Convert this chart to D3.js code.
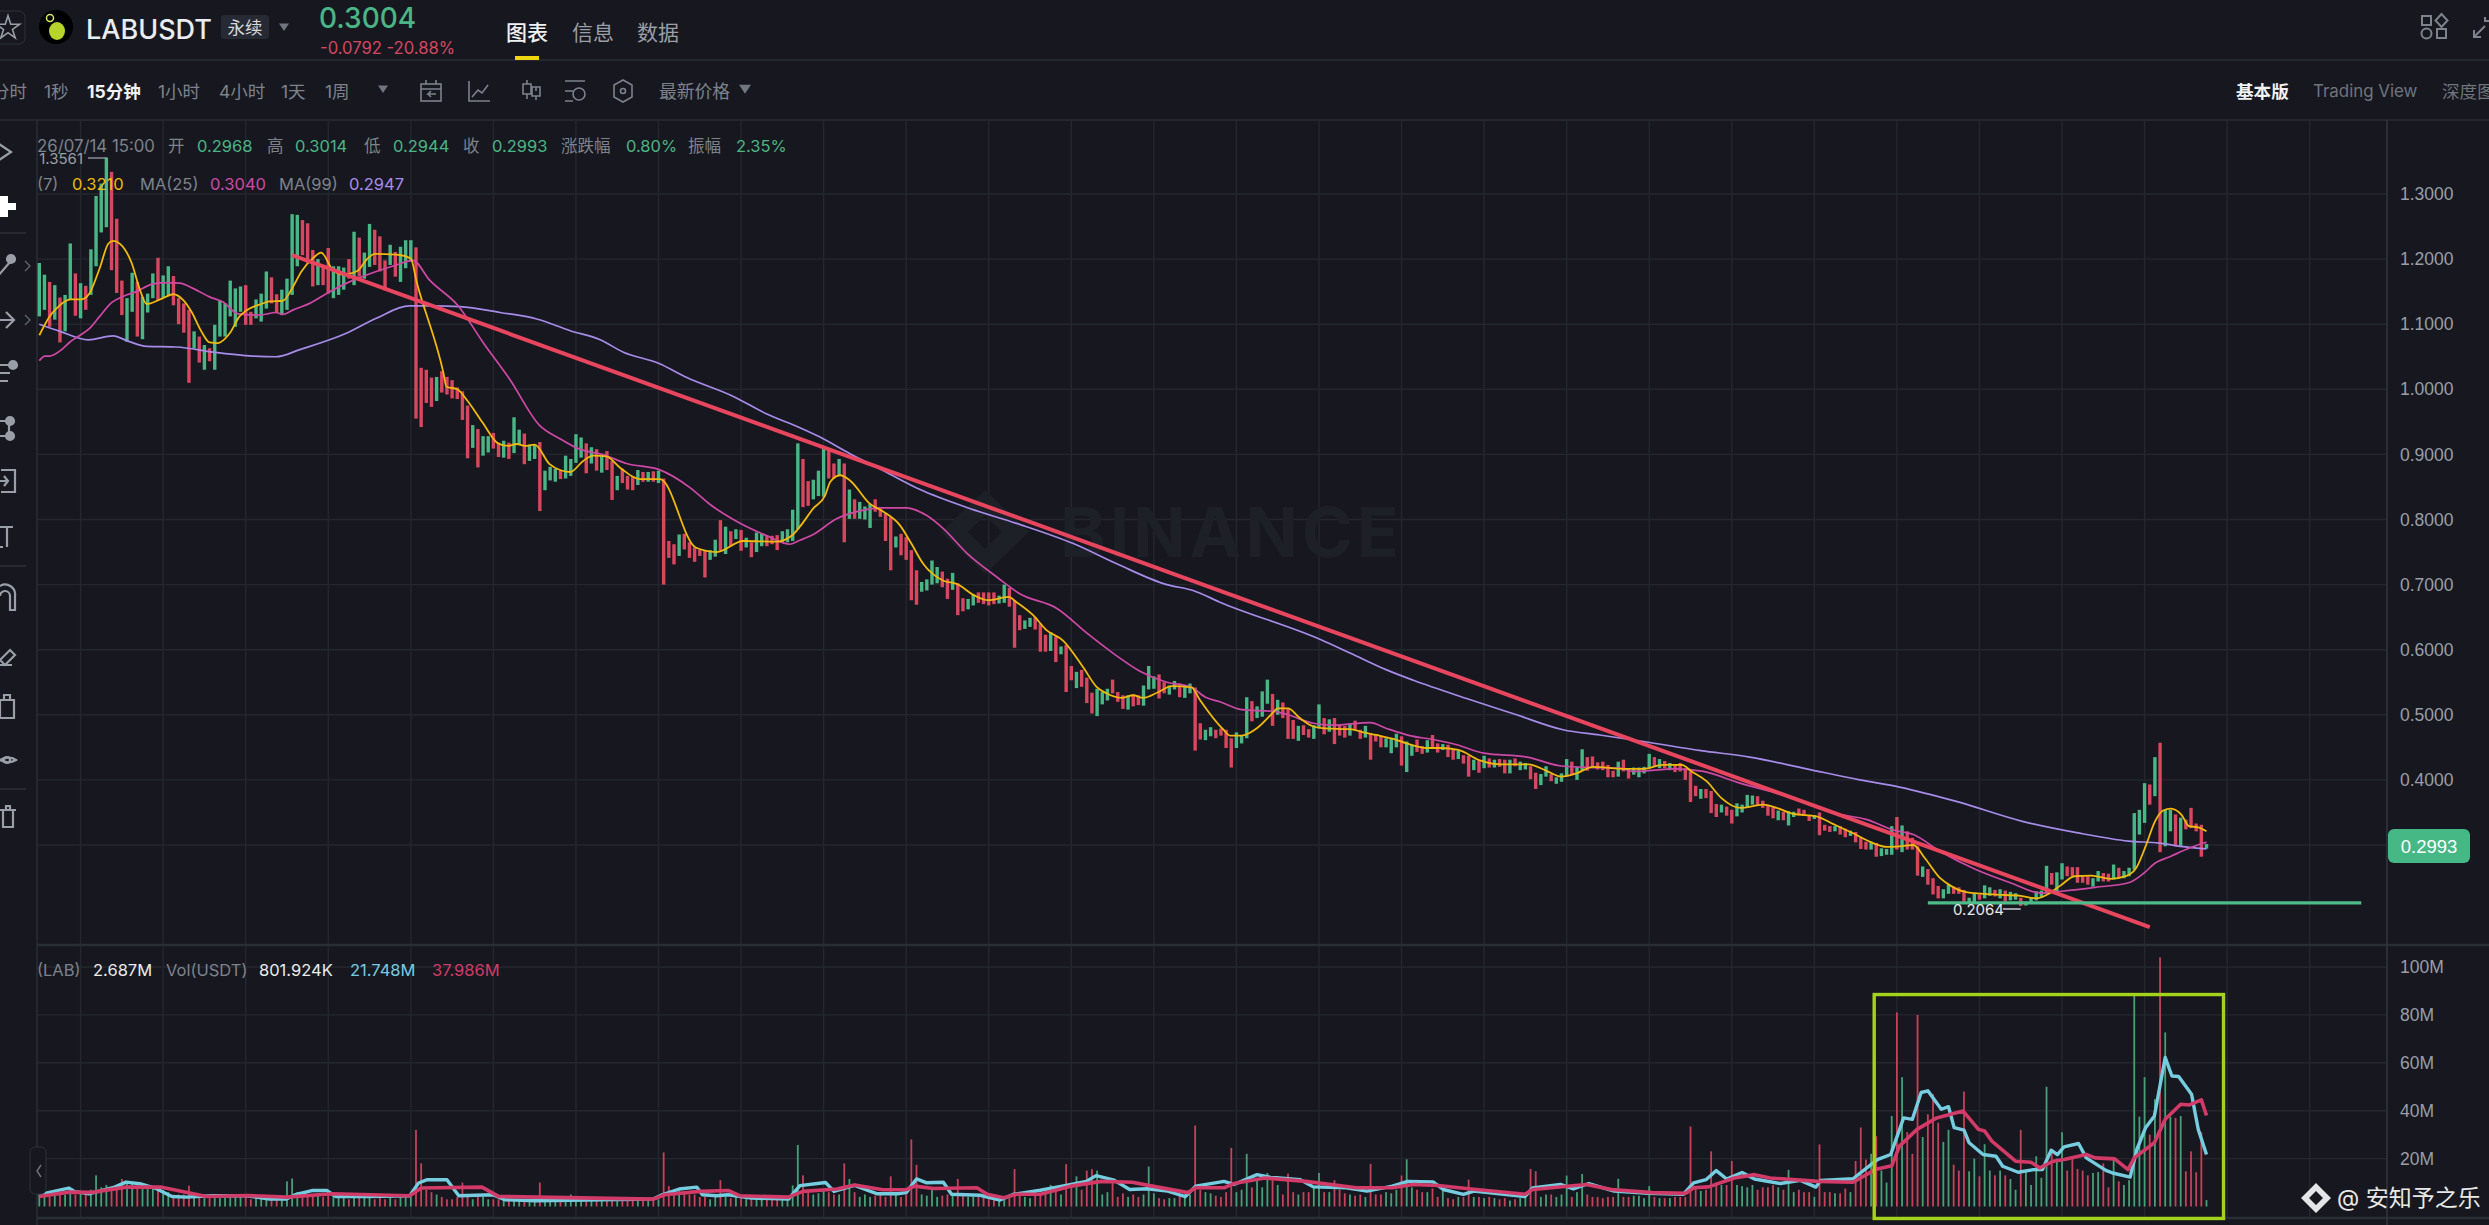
<!DOCTYPE html>
<html>
<head>
<meta charset="utf-8">
<title>LABUSDT</title>
<script src="https://d3js.org/d3.v7.min.js"></script>
<style>
html, body { margin: 0; padding: 0; background: #17181f; overflow: hidden; }
svg { display: block; }
text { font-family: "Inter", "Noto Sans CJK SC", sans-serif; }
.axis text { font-family: "Liberation Sans", sans-serif; font-size: 17.5px; fill: #9a9ea6; }
.axis path, .axis line { display: none; }
</style>
</head>
<body>
<div id="chart"></div>
<script>
// candles left to right (15 min bars)
var barHigh = [
1.194,1.176,1.165,1.160,1.141,1.145,1.224,1.178,1.163,1.159,
1.215,1.297,1.316,1.3561,1.334,1.262,1.167,1.140,1.179,1.165,
1.142,1.147,1.178,1.202,1.175,1.189,1.174,1.140,1.132,1.122,
1.089,1.081,1.068,1.063,1.099,1.136,1.132,1.167,1.155,1.158,
1.160,1.119,1.138,1.147,1.181,1.172,1.146,1.153,1.170,1.269,
1.268,1.260,1.255,1.214,1.200,1.191,1.217,1.189,1.189,1.187,
1.200,1.242,1.233,1.210,1.254,1.245,1.235,1.198,1.222,1.211,
1.219,1.229,1.229,1.218,1.033,1.030,1.018,1.019,1.028,1.019,
1.014,1.003,0.997,0.975,0.945,0.939,0.928,0.928,0.933,0.918,
0.921,0.918,0.957,0.938,0.932,0.915,0.915,0.919,0.875,0.881,
0.878,0.875,0.898,0.893,0.931,0.926,0.917,0.911,0.908,0.900,
0.905,0.890,0.867,0.878,0.867,0.867,0.876,0.873,0.873,0.874,
0.875,0.863,0.767,0.762,0.777,0.778,0.765,0.757,0.754,0.752,
0.753,0.769,0.799,0.789,0.782,0.785,0.784,0.772,0.765,0.780,
0.779,0.776,0.775,0.776,0.782,0.785,0.815,0.917,0.893,0.859,
0.861,0.875,0.911,0.906,0.886,0.893,0.886,0.846,0.831,0.827,
0.820,0.824,0.831,0.817,0.809,0.804,0.774,0.778,0.773,0.753,
0.722,0.704,0.708,0.737,0.727,0.720,0.709,0.718,0.702,0.679,
0.678,0.685,0.688,0.688,0.688,0.688,0.683,0.700,0.695,0.676,
0.653,0.645,0.649,0.650,0.640,0.623,0.627,0.620,0.605,0.607,
0.575,0.566,0.569,0.557,0.534,0.540,0.535,0.540,0.554,0.535,
0.530,0.530,0.531,0.530,0.545,0.575,0.559,0.562,0.550,0.545,
0.552,0.548,0.543,0.548,0.542,0.487,0.477,0.481,0.477,0.479,
0.477,0.464,0.473,0.469,0.527,0.521,0.513,0.536,0.554,0.532,
0.523,0.519,0.510,0.492,0.483,0.484,0.478,0.484,0.516,0.495,
0.493,0.495,0.484,0.483,0.487,0.491,0.477,0.483,0.472,0.469,
0.468,0.464,0.464,0.471,0.467,0.459,0.454,0.462,0.452,0.461,
0.469,0.456,0.455,0.454,0.446,0.445,0.438,0.437,0.431,0.430,
0.437,0.433,0.431,0.432,0.431,0.431,0.433,0.428,0.426,0.421,
0.411,0.409,0.421,0.409,0.404,0.410,0.432,0.428,0.420,0.447,
0.435,0.436,0.427,0.428,0.423,0.414,0.428,0.431,0.418,0.419,
0.419,0.420,0.440,0.435,0.432,0.429,0.426,0.423,0.426,0.418,
0.413,0.391,0.386,0.386,0.383,0.363,0.362,0.359,0.354,0.364,
0.362,0.377,0.376,0.375,0.368,0.360,0.358,0.353,0.351,0.352,
0.351,0.356,0.354,0.346,0.346,0.350,0.331,0.329,0.329,0.329,
0.325,0.322,0.320,0.312,0.305,0.305,0.303,0.295,0.294,0.329,
0.343,0.330,0.321,0.311,0.298,0.267,0.263,0.249,0.237,0.232,
0.240,0.236,0.235,0.231,0.219,0.226,0.224,0.238,0.235,0.231,
0.232,0.230,0.228,0.226,0.219,0.213,0.219,0.229,0.230,0.268,
0.257,0.258,0.272,0.267,0.266,0.266,0.252,0.252,0.249,0.260,
0.257,0.256,0.270,0.265,0.260,0.265,0.349,0.354,0.395,0.393,
0.435,0.457,0.354,0.354,0.347,0.342,0.339,0.357,0.333,0.331,
0.3014];
var barLow = [
1.112,1.122,1.096,1.107,1.072,1.089,1.137,1.113,1.109,1.122,
1.145,1.189,1.241,1.249,1.183,1.148,1.114,1.073,1.119,1.081,
1.077,1.118,1.140,1.137,1.140,1.145,1.129,1.100,1.087,1.010,
1.063,1.041,1.030,1.043,1.030,1.081,1.081,1.112,1.096,1.119,
1.099,1.099,1.109,1.104,1.124,1.132,1.117,1.114,1.122,1.145,
1.189,1.206,1.194,1.158,1.160,1.160,1.147,1.140,1.145,1.153,
1.170,1.160,1.173,1.170,1.188,1.191,1.181,1.152,1.191,1.173,
1.165,1.186,1.196,0.955,0.942,0.979,0.973,0.982,0.995,0.992,
0.986,0.985,0.953,0.894,0.910,0.880,0.898,0.903,0.909,0.896,
0.895,0.893,0.902,0.916,0.885,0.890,0.893,0.813,0.845,0.860,
0.858,0.862,0.863,0.867,0.887,0.895,0.871,0.886,0.875,0.872,
0.876,0.830,0.845,0.856,0.846,0.845,0.853,0.858,0.858,0.858,
0.856,0.700,0.741,0.731,0.744,0.754,0.741,0.735,0.744,0.711,
0.738,0.743,0.752,0.747,0.759,0.770,0.752,0.757,0.742,0.750,
0.759,0.759,0.762,0.753,0.765,0.765,0.767,0.785,0.819,0.821,
0.831,0.836,0.835,0.863,0.863,0.868,0.765,0.801,0.801,0.801,
0.800,0.787,0.812,0.804,0.767,0.722,0.757,0.745,0.738,0.676,
0.669,0.689,0.691,0.700,0.702,0.696,0.678,0.692,0.653,0.659,
0.662,0.668,0.672,0.670,0.668,0.670,0.671,0.672,0.666,0.603,
0.630,0.632,0.635,0.631,0.597,0.597,0.598,0.581,0.593,0.535,
0.553,0.541,0.543,0.518,0.502,0.498,0.516,0.522,0.533,0.520,
0.509,0.508,0.513,0.515,0.514,0.539,0.540,0.525,0.533,0.531,
0.539,0.527,0.526,0.533,0.445,0.462,0.461,0.467,0.464,0.468,
0.449,0.419,0.449,0.456,0.464,0.490,0.495,0.497,0.517,0.483,
0.500,0.495,0.463,0.463,0.460,0.469,0.465,0.463,0.479,0.470,
0.474,0.455,0.468,0.465,0.468,0.476,0.463,0.465,0.431,0.459,
0.450,0.450,0.441,0.450,0.422,0.412,0.437,0.443,0.440,0.442,
0.449,0.442,0.446,0.435,0.431,0.432,0.425,0.405,0.415,0.411,
0.418,0.419,0.419,0.420,0.410,0.410,0.421,0.415,0.416,0.401,
0.386,0.392,0.405,0.398,0.394,0.397,0.405,0.408,0.400,0.415,
0.414,0.419,0.416,0.415,0.404,0.404,0.405,0.413,0.402,0.408,
0.404,0.410,0.417,0.421,0.418,0.418,0.415,0.412,0.413,0.400,
0.366,0.375,0.371,0.372,0.349,0.343,0.350,0.345,0.333,0.344,
0.350,0.358,0.362,0.360,0.357,0.345,0.341,0.338,0.338,0.330,
0.343,0.346,0.345,0.337,0.340,0.315,0.322,0.320,0.321,0.316,
0.312,0.314,0.304,0.294,0.293,0.293,0.282,0.283,0.285,0.285,
0.293,0.289,0.293,0.293,0.253,0.251,0.239,0.224,0.218,0.218,
0.225,0.225,0.225,0.213,0.211,0.211,0.216,0.218,0.222,0.221,
0.218,0.213,0.215,0.216,0.2064,0.207,0.210,0.215,0.219,0.226,
0.239,0.229,0.247,0.252,0.252,0.242,0.242,0.239,0.236,0.244,
0.244,0.244,0.247,0.249,0.249,0.252,0.262,0.316,0.334,0.362,
0.375,0.289,0.298,0.321,0.298,0.298,0.324,0.326,0.321,0.282,
0.2944];
var barSide = (
"ggrgrggrgr"+"ggggrrrggr"+"gggrggrrrr"+"grgrgggggg"+"rrgggrrggg"+"grrrgrrggg"+"rgrggrrrgr"+
"gggrrrrgrr"+"rrrrgrggrr"+"grggrggrgg"+"grggggrgrg"+"rrgrrrgrgr"+"grrrgrrrrr"+"ggrgrgrgrg"+
"grrrggggrr"+"gggrrgrgrg"+"ggrrrrgrrr"+"rggggrrgrr"+"ggrrrrggrr"+"rggrrrgrgr"+"rgrrrgggrr"+
"rgrrgggrrg"+"grggrrggrr"+"rrgggrgggr"+"grrrgrrggr"+"grrrgrrgrr"+"rgggrggrrg"+"rrgrrgrrgr"+
"grgrrgrggr"+"rggrgggrgg"+"rrrrrrgrrg"+"gggrgrgrrr"+"rrgrrrgrrg"+"gggrrrrgrg"+"grrrgrrrgr"+
"rgrrrgrggg"+"rgrrrgrrrg"+"grrrggrggr"+"grggrggggg"+"rggrrrrrgg"+"rrgrgggggr"+"grggrgrrrr"+"g").split("");

// volume per bar, in millions
var volumes = [
5,5,4,5,6,5,7,5,6,5,
7,13,8,9,8,9,11.5,10,10,9,
9,9,8,8,7,6,5,5,5,8.7,
4,4,4,3.5,5,4,5,5,4.5,5,
4,3,4,4,4,3,3,4,10.5,11.7,
6,6,5,5,5,4,6,5,4,4,
3,5,4,4,4,3,4,3,4,3,
4,4,4,32,18,7,6,5,4,3,
3,4,10,4,3,4,4,3,3,3,
3,3,3,3,3,3,4,10,3,3,
3,3,4,5,3,3,3,3,3,3,
3,4,3,3,3,3,3,3,3,3,
3,22.6,8.5,6,6.5,6,5,5,4,4,
3,4,11,4,3.5,4,3.5,3.5,4,3,
4,3,3.5,4,4,4,8.8,25.7,13,6,
5,5.5,7,6,5,5,18,11.5,6,4,
5,4,4.5,5,4,12.6,5,4,5,28,
17.4,5,4.5,7,4,4.5,5,5,11.5,5,
4,4,4,4,3.5,4,3.5,4,4,15.6,
5,4,3.5,6.5,5.5,6,9,8,5,17.7,
8,12.6,7,15,15.6,15,5,6,10,4,
5.5,4,5,4,5,16.7,5.5,3.5,3,3.5,
3.5,4.5,5,5,33.8,7,6,5.5,4.5,4,
6,24.5,6,7,22,8,11,8,14,11,
9,5,13.7,6,5,6,6,8,14,6,
6,11,7,5.5,5,4.5,5,4,17.8,5,
5,6,5.5,7,12.9,19.7,8,7,6,6,
7.5,4,7,3.5,3,4,4,11.2,4,4,
3.5,4,3.5,3,3.5,2.5,3,3.5,3.5,15.7,
14.7,4,5,5,4,5,12.9,4,6,13.6,
5,4,4,3.5,4,4,11.6,4,4,4.5,
4.5,3.5,8.5,4,3.5,3.5,3.5,4,4,4,
33.4,8,6.5,7,23,10,9,9,19,9,
8.5,8,9,7,8,8,9,8,7,15.3,
6,7,6,6,4,25.9,6,6,5.5,5.5,
7.5,6,19,33,19.6,22,29.4,15,10,37.8,
81,54,31,22,80,29,38.5,47,35,27,
32,17.5,15,48,14.7,20,12.6,26,15,13,
15,13,11.5,7,32,15,9,21,12,50,
23,20,31,15,21,15.7,15,13,14,14.4,
18,8,20,10.5,9,11,88,37.5,54,30,
44.8,104,72.7,37.5,37,37.8,14.7,23,14.3,31,
2.687];

// moving averages, [bar index, price]
var ma7 = [[0,1.083],[2,1.112],[3.7,1.127],[6,1.138],[8.2,1.138],[9.7,1.147],[11.7,1.186],[13.4,1.224],[14.3,1.228],[15.7,1.223],
[17.9,1.194],[19.5,1.153],[20.8,1.131],[23.4,1.138],[26,1.146],[27.9,1.137],[29.5,1.119],[31.4,1.089],[33,1.072],[34.6,1.071],
[36.9,1.086],[38.8,1.112],[40.1,1.121],[43,1.131],[44.6,1.135],[47.2,1.136],[49.2,1.158],[50.8,1.181],[53,1.201],[54.6,1.210],
[56.9,1.183],[58.8,1.176],[61.7,1.182],[63.4,1.199],[65,1.208],[69.2,1.207],[72,1.201],[73.1,1.166],[78.3,1.026],[78.9,1.004],
[81,1.000],[83,0.982],[85.9,0.949],[88.9,0.917],[90.9,0.913],[92.5,0.916],[94.1,0.913],[96,0.915],[98.9,0.885],[100.9,0.876],
[102.9,0.873],[105.4,0.890],[107.4,0.898],[109.9,0.897],[112.5,0.880],[116.4,0.862],[120.3,0.862],[127.2,0.757],[131.3,0.750],[136.4,0.767],
[142.9,0.766],[145.8,0.775],[147.4,0.789],[150,0.817],[152.3,0.837],[153.3,0.858],[155.2,0.868],[157.1,0.860],[161,0.824],[163.6,0.812],
[166.8,0.791],[169,0.763],[171.3,0.732],[175.2,0.706],[177.8,0.701],[181.3,0.683],[183.9,0.676],[187.8,0.681],[189.4,0.673],[192.6,0.653],
[195.2,0.630],[198.4,0.614],[202.3,0.573],[204.9,0.543],[206.8,0.533],[209.7,0.526],[212,0.530],[213.9,0.526],[216.9,0.535],[219.5,0.544],
[223.3,0.542],[224.9,0.523],[229.5,0.477],[230.8,0.468],[233,0.468],[235.9,0.479],[238.8,0.501],[240,0.510],[242,0.510],[244.3,0.495],
[246.9,0.482],[249.2,0.479],[254,0.478],[256.6,0.473],[259.1,0.469],[262.4,0.463],[265,0.456],[268.9,0.449],[271.5,0.449],[275,0.446],
[279.2,0.430],[283.1,0.424],[288.6,0.424],[292.1,0.414],[295,0.405],[297.9,0.410],[301.1,0.420],[307.3,0.417],[310.9,0.417],[314.7,0.423],
[318.3,0.423],[320.2,0.413],[323.1,0.398],[326,0.372],[329.6,0.357],[334.1,0.362],[336.7,0.357],[339.9,0.348],[344.4,0.344],[347.7,0.332],
[351.5,0.318],[355.4,0.303],[358,0.297],[360.6,0.298],[363.2,0.300],[365.4,0.280],[368.4,0.249],[370.3,0.238],[373.2,0.228],[378.7,0.224],
[384,0.222],[387,0.218],[389.6,0.226],[391.9,0.239],[394.4,0.252],[397.7,0.253],[401.4,0.248],[404.6,0.253],[406.4,0.265],[408.2,0.298],
[410,0.336],[411.6,0.353],[413.1,0.356],[415.2,0.346],[416.6,0.329],[418.4,0.327],[420,0.321]];
var ma25 = [[0,1.044],[1.1,1.051],[2,1.051],[4,1.059],[6,1.073],[7.9,1.083],[9.8,1.094],[11.7,1.112],[14,1.133],[16.3,1.143],
[18.8,1.150],[22,1.162],[24.6,1.164],[27.2,1.163],[29.8,1.155],[33,1.142],[35.6,1.134],[38.5,1.116],[42.7,1.114],[45.9,1.118],
[47.2,1.115],[49.2,1.122],[52.4,1.132],[56.3,1.150],[60.1,1.165],[65.3,1.181],[69.2,1.191],[72.4,1.198],[75.6,1.168],[81.2,1.128],
[86,1.072],[91.2,1.015],[96.9,0.945],[100.9,0.924],[104.1,0.910],[109.9,0.898],[113.8,0.886],[120,0.877],[126.1,0.849],[130,0.823],
[134.5,0.800],[141,0.775],[145.5,0.762],[147.4,0.768],[150,0.777],[154.5,0.801],[158.4,0.812],[163,0.818],[168,0.818],[172,0.806],
[175.2,0.786],[179.8,0.748],[185.5,0.712],[190,0.686],[197.3,0.663],[203.1,0.625],[208.2,0.594],[213.3,0.567],[218.5,0.550],[223.1,0.543],
[226,0.527],[228.8,0.520],[233,0.508],[239.5,0.505],[242,0.500],[246.9,0.487],[250.8,0.484],[257.9,0.488],[261.1,0.479],[265.6,0.468],
[270.1,0.462],[274.7,0.454],[279.9,0.441],[288.3,0.435],[295.3,0.421],[301.1,0.419],[306.3,0.418],[308.9,0.413],[317.3,0.417],[322.5,0.413],
[329.6,0.395],[338.6,0.375],[347.7,0.349],[354.2,0.339],[359.3,0.323],[363.2,0.316],[368.4,0.290],[375.4,0.262],[382,0.242],[388,0.226],
[391.9,0.229],[398.4,0.235],[404.9,0.242],[407.9,0.257],[410,0.272],[412.9,0.282],[416.6,0.295],[419.5,0.303],[420,0.304]];
var ma99 = [[0,1.100],[4,1.089],[9.5,1.076],[14.3,1.082],[17.2,1.074],[20.8,1.066],[26.6,1.065],[33.7,1.057],[41.4,1.051],[45.9,1.050],
[50.5,1.061],[59.5,1.086],[65.3,1.109],[71.7,1.128],[76.3,1.128],[81.5,1.127],[89.3,1.118],[96.4,1.108],[102.9,1.090],[108.7,1.076],
[113.2,1.057],[120,1.040],[125.5,1.018],[134.5,0.989],[141,0.962],[147.4,0.941],[151.2,0.927],[157.1,0.901],[163.6,0.875],[170.7,0.846],
[180.3,0.817],[189.4,0.794],[200.4,0.763],[208.8,0.732],[218.5,0.700],[223.6,0.691],[228.8,0.673],[248.5,0.615],[254,0.595],[261.1,0.569],
[266.3,0.553],[276.6,0.525],[286.3,0.500],[295.3,0.477],[302.4,0.469],[310.9,0.459],[322,0.445],[331.5,0.435],[342.5,0.417],[352.8,0.400],
[360.5,0.389],[371.5,0.367],[384.5,0.336],[394.8,0.319],[404.9,0.306],[410.8,0.303],[415.9,0.297],[420,0.294]];

// volume averages, [bar index, millions]
var volMa7 = [[0,4.2],[1.3,5.6],[5.7,7.7],[6.8,6.3],[9.6,5.3],[14.6,8.1],[16.8,10.2],[19.5,9.5],[22.4,7.7],[25.7,4.2],[28.5,3.9],[33.5,4.5],[40.2,4.5],[44.6,3.1],[47.9,3.1],[49.6,4.9],[53,6.7],[55.7,6.7],[57.4,4.2],[63.5,4.2],[71.8,4.5],[73.5,9.8],[75.2,11.2],[79,11.2],[81.3,4.5],[87.9,4.9],[90.2,2.8],[96.3,2.4],[119,3.1],[120.7,4.9],[124,7.3],[127.4,8.1],[128.5,4.9],[131.3,4.5],[133.5,4.9],[138,3.5],[145.2,3.1],[147.4,8.7],[152.4,10],[154,6.3],[158,8.8],[162.4,5.3],[166.3,5.3],[168,5.8],[170,11.5],[172,9.9],[175.2,10.1],[176.8,5.1],[182.3,4.7],[186.2,2.7],[188.8,5.1],[194,6.8],[199,8.8],[202.9,10.5],[204.8,12.9],[208.3,11],[211.3,7.1],[214.7,7.4],[218.7,6.4],[222.1,4.1],[224.1,8.5],[229.6,10.5],[231.5,9.2],[236,13.3],[238.5,12.2],[244.4,11.2],[246.9,8.2],[253.3,7.8],[257.3,6.4],[262.2,8.5],[265.2,10.5],[270.1,10.3],[272.1,7.1],[276,5.1],[278,6.4],[287.9,4.1],[289.4,7.8],[294.8,9.2],[297.3,7.4],[300.3,9.6],[305.2,6.4],[311.7,5.5],[318.6,5.1],[320.6,9.9],[323,11.2],[325,15],[327,11.5],[330,14.2],[332.4,11.5],[337.4,9.6],[341.3,10.9],[344.3,8.1],[345.2,10.9],[351.5,11.6],[356.2,19.6],[358.8,21.7],[361.3,37],[363,36.4],[364.7,47.6],[366,48.3],[368.6,40.6],[370,41.7],[371.1,32.9],[373,31.9],[374,26.6],[376.7,21.7],[379.2,21],[380.5,16.8],[383.5,14.3],[386.5,15.4],[388.2,15.4],[389.9,23.5],[391.1,21.7],[392.4,24.9],[395.2,26.3],[396.7,20.3],[400.5,15.1],[401.8,14],[405.2,12.3],[406.5,23.8],[408.2,32.9],[409.9,37.8],[412,62.2],[413.3,54.5],[414.6,54.3],[417.1,46.9],[418.4,32.2],[420,21.748]];
var volMa25 = [[0,4.2],[5.7,6],[10.2,5.9],[16.8,8.1],[23.5,8.1],[32.4,4.2],[40.2,4.6],[48,3.9],[56.8,5.3],[71.8,4.5],[74,7.7],[85.8,8.1],[89,4.2],[119,3.1],[121.2,4.9],[128,6.3],[133.5,6.7],[135.7,4.5],[145.2,3.9],[148,6.3],[154.6,7.3],[158,9],[163.5,7],[166.3,7],[168,7.1],[169.7,8.5],[173.3,7.5],[181.7,7.8],[183.7,5.1],[186.9,3.7],[189.4,5.1],[194,5.1],[199.9,8.5],[205.8,10.5],[211.8,10.1],[215.7,8.5],[222.6,5.8],[224.1,7.8],[229.6,7.8],[231.5,9.6],[237.5,11.9],[245.4,10.5],[255.3,7.8],[262.2,7.8],[266.2,9.2],[271.1,8.8],[277,7.4],[287.9,5.1],[289.4,7.1],[299.8,9.2],[304.7,7.1],[312.6,5.8],[319.1,5.5],[320.6,7.8],[323.5,8.2],[328.5,11.9],[332.4,13.3],[335.4,11.9],[341.3,11],[344.7,10.5],[351.5,10.1],[355.8,15.4],[359,17],[360.5,25.2],[363.9,32.2],[367.7,37],[372.8,39.9],[375.8,32.2],[377,31.5],[378.4,27.3],[383,18.9],[386,18.5],[387.7,16.1],[390.3,18.9],[392.4,19.6],[396.7,21.7],[398.4,20.3],[402.2,19.9],[404.8,15.4],[406,20.3],[409.9,26.6],[412,36.4],[415,42.7],[416.7,42.4],[419,44.5],[420,37.986]];

// drawn annotations, [bar index, value]
var trendLine = [[49,1.206],[409,0.174]];
var supportLine = [[366,0.211],[450,0.211]];
var volBox = [[355.6,88.5],[423.3,-5]];

var priceTicks = [1.3,1.2,1.1,1.0,0.9,0.8,0.7,0.6,0.5,0.4];
var volTicks = [100,80,60,40,20];

var width = 2489, height = 1225;
var green = "#4ab585", red = "#d9465f", grey = "#7d828c", dim = "#848e9c";
var lineCol = "#2b2d35", gridCol = "#25272f";

var x = d3.scaleLinear().domain([0, 420]).range([39.3, 2206.5]);
var yPrice = d3.scaleLinear().domain([1.3, 0.3]).range([194, 845]);
var yVol = d3.scaleLinear().domain([0, 100]).range([1206.5, 967]);

var svg = d3.select("#chart").append("svg").attr("width", width).attr("height", height);
svg.append("rect").attr("width", width).attr("height", height).attr("fill", "#17181f");

svg.append("clipPath").attr("id", "plot").append("rect")
	.attr("x", 37).attr("y", 120).attr("width", 2350).attr("height", 1105);

function label(parent, tx, ty, str, col, size, weight, anchor) {
	return parent.append("text").attr("x", tx).attr("y", ty).attr("fill", col)
		.attr("font-size", size).attr("font-weight", weight || 400)
		.attr("text-anchor", anchor || "start").attr("dominant-baseline", "central").text(str);
}
function hline(y0, x0, x1, col, w) {
	svg.append("line").attr("x1", x0).attr("x2", x1).attr("y1", y0).attr("y2", y0)
		.attr("stroke", col).attr("stroke-width", w || 1);
}

// header
hline(60, 0, width, lineCol, 1.5);
hline(120, 0, width, lineCol, 1.5);
svg.append("rect").attr("x", -8).attr("y", 11).attr("width", 33).attr("height", 33).attr("rx", 6)
	.attr("fill", "none").attr("stroke", "#2e3138");
svg.append("path").attr("d", d3.symbol(d3.symbolStar, 170)()).attr("transform", "translate(8,28)")
	.attr("fill", "none").attr("stroke", "#9a9ea6").attr("stroke-width", 1.6);
svg.append("circle").attr("cx", 56).attr("cy", 27).attr("r", 17).attr("fill", "#000");
svg.append("ellipse").attr("cx", 57).attr("cy", 31).attr("rx", 8).attr("ry", 9).attr("fill", "#b6d42c");
svg.append("circle").attr("cx", 50).attr("cy", 18).attr("r", 3.5).attr("fill", "none").attr("stroke", "#d8e86a").attr("stroke-width", 1.5);
label(svg, 86, 29, "LABUSDT", "#eaecef", 27, 500);
svg.append("rect").attr("x", 221).attr("y", 15).attr("width", 48).attr("height", 24).attr("rx", 3).attr("fill", "#272a32");
label(svg, 245, 27, "永续", "#d5d8dc", 17.5, 400, "middle");
function tri(tx, ty, s) {
	svg.append("path").attr("d", "M" + (tx - s) + "," + (ty - s * 0.7) + "h" + (2 * s) + "l" + (-s) + "," + (1.5 * s) + "z").attr("fill", "#70757e");
}
tri(284, 27, 5);
label(svg, 319, 18, "0.3004", green, 28, 500);
label(svg, 320, 48, "-0.0792 -20.88%", red, 16.6);
label(svg, 506, 32, "图表", "#f0f1f2", 21, 500);
label(svg, 572, 32, "信息", "#9a9ea6", 21);
label(svg, 637, 32, "数据", "#9a9ea6", 21);
svg.append("rect").attr("x", 515).attr("y", 56).attr("width", 24).attr("height", 4).attr("fill", "#f0d60f");

// top right icons
var topIcons = svg.append("g").attr("fill", "none").attr("stroke", "#7d828c").attr("stroke-width", 2);
topIcons.append("rect").attr("x", 2422).attr("y", 16).attr("width", 9).attr("height", 9);
topIcons.append("rect").attr("x", 2437).attr("y", 29).attr("width", 9).attr("height", 9);
topIcons.append("circle").attr("cx", 2426.5).attr("cy", 33.5).attr("r", 5);
topIcons.append("path").attr("d", "M2441.5,14l6,6.5l-6,6.5l-6,-6.5z");
topIcons.append("path").attr("d", "M2474,37l11,-11M2474,30v7h7");
topIcons.append("path").attr("d", "M2489,21h-4v-4");

// interval bar
label(svg, 27, 91, "分时", grey, 17.5, 400, "end");
label(svg, 44, 91, "1秒", grey, 17.5);
label(svg, 87, 91, "15分钟", "#f0f1f2", 17.5, 700);
label(svg, 158, 91, "1小时", grey, 17.5);
label(svg, 219, 91, "4小时", grey, 17.5);
label(svg, 281, 91, "1天", grey, 17.5);
label(svg, 325, 91, "1周", grey, 17.5);
tri(383, 89, 5);
label(svg, 659, 91, "最新价格", grey, 17.8);
tri(745, 89, 6);
var toolIcons = svg.append("g").attr("fill", "none").attr("stroke", "#7d828c").attr("stroke-width", 1.6);
toolIcons.append("rect").attr("x", 421).attr("y", 84).attr("width", 20).attr("height", 17);
toolIcons.append("path").attr("d", "M421,89h20M426,80v4M436,80v4M436,94h-8l3,-3M428,94l3,3");
toolIcons.append("path").attr("d", "M469,81v20h21M472,97l6,-7l4,3l6,-8");
toolIcons.append("path").attr("d", "M523,84h8v10h-8zM527,80v4M527,94v5M536,87v4M532,87h8v9h-8zM536,96v4");
toolIcons.append("path").attr("d", "M565,81h20M565,91h8M565,101h8");
toolIcons.append("circle").attr("cx", 579).attr("cy", 94).attr("r", 6);
toolIcons.append("path").attr("d", "M623,80l9,5v12l-9,5l-9,-5v-12z");
toolIcons.append("circle").attr("cx", 623).attr("cy", 91).attr("r", 2.5);
label(svg, 2236, 91, "基本版", "#f0f1f2", 17.6, 700);
label(svg, 2313, 91, "Trading View", "#6f747d", 16.9);
label(svg, 2442, 91, "深度图", "#6f747d", 17.6);

// grid
var gridBars = d3.range(8, 441, 16);
svg.append("g").selectAll("line").data(gridBars).enter().append("line")
	.attr("x1", d => x(d)).attr("x2", d => x(d)).attr("y1", 120).attr("y2", 1218)
	.attr("stroke", gridCol).attr("stroke-width", 1.4);
svg.append("g").selectAll("line").data(priceTicks.concat([0.3])).enter().append("line")
	.attr("x1", 37).attr("x2", 2387).attr("y1", d => yPrice(d)).attr("y2", d => yPrice(d))
	.attr("stroke", gridCol).attr("stroke-width", 1.4);
svg.append("g").selectAll("line").data(volTicks).enter().append("line")
	.attr("x1", 37).attr("x2", 2387).attr("y1", d => yVol(d)).attr("y2", d => yVol(d))
	.attr("stroke", gridCol).attr("stroke-width", 1.4);

// faint exchange mark behind the candles
var mark = svg.append("g").attr("fill", "#1e2027");
label(mark, 1060, 532, "BINANCE", "#1e2027", 69, 700).attr("letter-spacing", 4);
mark.append("path").attr("d", "M985,490l44,42l-44,42l-44,-42zM985,515l-17,17l17,17l17,-17z").attr("fill-rule", "evenodd");

hline(945, 37, width, lineCol, 2.5);
hline(1218, 37, width, lineCol, 2.5);
svg.append("line").attr("x1", 37).attr("x2", 37).attr("y1", 120).attr("y2", 1225).attr("stroke", lineCol).attr("stroke-width", 1.5);
svg.append("line").attr("x1", 2387).attr("x2", 2387).attr("y1", 120).attr("y2", 1225).attr("stroke", "#33363e").attr("stroke-width", 1.5);

var plot = svg.append("g").attr("clip-path", "url(#plot)");
var bars = d3.range(barHigh.length);

// candles
plot.append("g").selectAll("rect").data(bars).enter().append("rect")
	.attr("x", d => x(d) - 1.7).attr("width", 3.4)
	.attr("y", d => yPrice(barHigh[d]))
	.attr("height", d => yPrice(barLow[d]) - yPrice(barHigh[d]))
	.attr("fill", d => barSide[d] == "g" ? green : red);

// volume bars
plot.append("g").selectAll("rect").data(bars).enter().append("rect")
	.attr("x", d => x(d) - 0.9).attr("width", 1.8)
	.attr("y", d => yVol(volumes[d]))
	.attr("height", d => yVol(0) - yVol(volumes[d]))
	.attr("fill", d => barSide[d] == "g" ? "#479f76" : "#c4425a");

var priceCurve = d3.line().x(d => x(d[0])).y(d => yPrice(d[1])).curve(d3.curveMonotoneX);
var volCurve = d3.line().x(d => x(d[0])).y(d => yVol(d[1]));

function curve(data, gen, col, w) {
	plot.append("path").attr("d", gen(data)).attr("fill", "none").attr("stroke", col)
		.attr("stroke-width", w).attr("stroke-linejoin", "round");
}
curve(ma99, priceCurve, "#a78bea", 1.7);
curve(ma25, priceCurve, "#cf48a6", 1.7);
curve(ma7, priceCurve, "#f0b90b", 1.8);
curve(volMa7, volCurve, "#77cde0", 3.4);
curve(volMa25, volCurve, "#d23a68", 3.6);

// annotations
var straight = d3.line().x(d => x(d[0])).y(d => yPrice(d[1]));
curve(trendLine, straight, "#e8455f", 4);
curve(supportLine, straight, "#4fbb8a", 3.2);
plot.append("rect")
	.attr("x", x(volBox[0][0])).attr("y", yVol(volBox[0][1]))
	.attr("width", x(volBox[1][0]) - x(volBox[0][0]))
	.attr("height", yVol(volBox[1][1]) - yVol(volBox[0][1]))
	.attr("fill", "none").attr("stroke", "#a5d31c").attr("stroke-width", 3.4);

// high and low tags
label(plot, 83, 158, "1.3561", "#9a9ea6", 15, 400, "end");
plot.append("line").attr("x1", 88).attr("x2", x(13)).attr("y1", 158).attr("y2", 158).attr("stroke", "#9a9ea6").attr("stroke-width", 1.3);
label(plot, 1953, 909, "0.2064", "#e6e8ea", 15);
plot.append("line").attr("x1", 2003).attr("x2", x(384)).attr("y1", 909).attr("y2", 909).attr("stroke", "#e6e8ea").attr("stroke-width", 1.3);

// legend rows, cut off by the drawing tools like the original
var legend = svg.append("g").attr("clip-path", "url(#plot)");
label(legend, 37, 146, "26/07/14 15:00", grey, 16.8);
[["开",168,"0.2968",197],["高",267,"0.3014",295],["低",364,"0.2944",393],["收",463,"0.2993",492],["涨跌幅",561,"0.80%",626],["振幅",688,"2.35%",736]].forEach(function (r) {
	label(legend, r[1], 146, r[0], grey, 16.5);
	label(legend, r[3], 146, r[2], green, 16.5);
});
label(legend, 37, 184, "(7)", grey, 16.5);
label(legend, 72, 184, "0.3210", "#f0b90b", 16.5);
label(legend, 140, 184, "MA(25)", grey, 16.5);
label(legend, 210, 184, "0.3040", "#cf48a6", 16.5);
label(legend, 279, 184, "MA(99)", grey, 16.5);
label(legend, 349, 184, "0.2947", "#a78bea", 16.5);
label(legend, 37, 970, "(LAB)", grey, 16.5);
label(legend, 93, 970, "2.687M", "#eaecef", 16.5);
label(legend, 166, 970, "Vol(USDT)", grey, 16.5);
label(legend, 259, 970, "801.924K", "#eaecef", 16.5);
label(legend, 350, 970, "21.748M", "#77cde0", 16.5);
label(legend, 432, 970, "37.986M", "#d23a68", 16.5);

// axes
svg.append("g").attr("class", "axis").attr("transform", "translate(2387,0)")
	.call(d3.axisRight(yPrice).tickValues(priceTicks).tickFormat(d3.format(".4f")).tickSize(0).tickPadding(13));
svg.append("g").attr("class", "axis").attr("transform", "translate(2387,0)")
	.call(d3.axisRight(yVol).tickValues(volTicks).tickFormat(d => d + "M").tickSize(0).tickPadding(13));

svg.append("rect").attr("x", 2388).attr("y", 829).attr("width", 82).attr("height", 34).attr("rx", 6).attr("fill", "#46b885");
label(svg, 2429, 846, "0.2993", "#fff", 18.5, 500, "middle").style("font-family", "Liberation Sans");

// left drawing tools, mostly off the edge
var tools = svg.append("g").attr("fill", "none").attr("stroke", "#9a9ea6").attr("stroke-width", 2.2);
tools.append("path").attr("d", "M-4,142l15,10l-15,10");
tools.append("path").attr("d", "M0,196h8v7h8v7h-8v7h-8z").attr("fill", "#fff").attr("stroke", "none");
tools.append("path").attr("d", "M-2,276l12,-14");
tools.append("circle").attr("cx", 11).attr("cy", 259).attr("r", 4).attr("fill", "#9a9ea6");
tools.append("path").attr("d", "M-2,320h16M6,312l8,8l-8,8");
tools.append("path").attr("d", "M0,365h10M0,373h10M0,381h8");
tools.append("circle").attr("cx", 13).attr("cy", 365).attr("r", 4).attr("fill", "#9a9ea6");
tools.append("path").attr("d", "M0,421h9M0,436h9M9,421v15");
tools.append("circle").attr("cx", 10).attr("cy", 421).attr("r", 4).attr("fill", "#9a9ea6");
tools.append("circle").attr("cx", 10).attr("cy", 436).attr("r", 4).attr("fill", "#9a9ea6");
tools.append("path").attr("d", "M1,470h14v22h-14M-2,481h10M4,476l4,5l-4,5");
tools.append("path").attr("d", "M0,527h13M7,527v20M0,547h3");
tools.append("path").attr("d", "M0,586a10,10 0 0 1 15,10v14h-5v-14a5,5 0 0 0 -10,0");
tools.append("path").attr("d", "M0,660l10,-10l5,5l-10,10zM0,665h12");
tools.append("path").attr("d", "M0,700h14v18h-14zM4,700v-5h6v5");
tools.append("path").attr("d", "M0,760a12,9 0 0 1 16,0a12,9 0 0 1 -16,0z");
tools.append("circle").attr("cx", 7).attr("cy", 760).attr("r", 3);
tools.append("path").attr("d", "M0,810h16M3,810v17h10v-17M6,810v-4h4v4");
[233, 566, 789].forEach(function (sy) { hline(sy, 0, 26, "#2e3138", 1.5); });
var chev = svg.append("g").attr("fill", "none").attr("stroke", "#5f646d").attr("stroke-width", 1.4);
chev.append("path").attr("d", "M25,261l5,5l-5,5");
chev.append("path").attr("d", "M25,315l5,5l-5,5");

// collapse button
svg.append("rect").attr("x", 30).attr("y", 1147).attr("width", 16).attr("height", 47).attr("rx", 5)
	.attr("fill", "#17181f").attr("stroke", "#2e3138");
svg.append("path").attr("d", "M41,1165l-4,6l4,6").attr("fill", "none").attr("stroke", "#6f747d").attr("stroke-width", 1.4);

// post watermark
var w = svg.append("g").attr("fill", "#e4e5e7");
w.append("path").attr("d", "M2316,1183l15,15l-15,15l-15,-15zM2316,1191l-7,7l7,7l7,-7z").attr("fill-rule", "evenodd");
label(svg, 2337, 1198, "@ 安知予之乐", "#e8e8e8", 23);
</script>
</body>
</html>
